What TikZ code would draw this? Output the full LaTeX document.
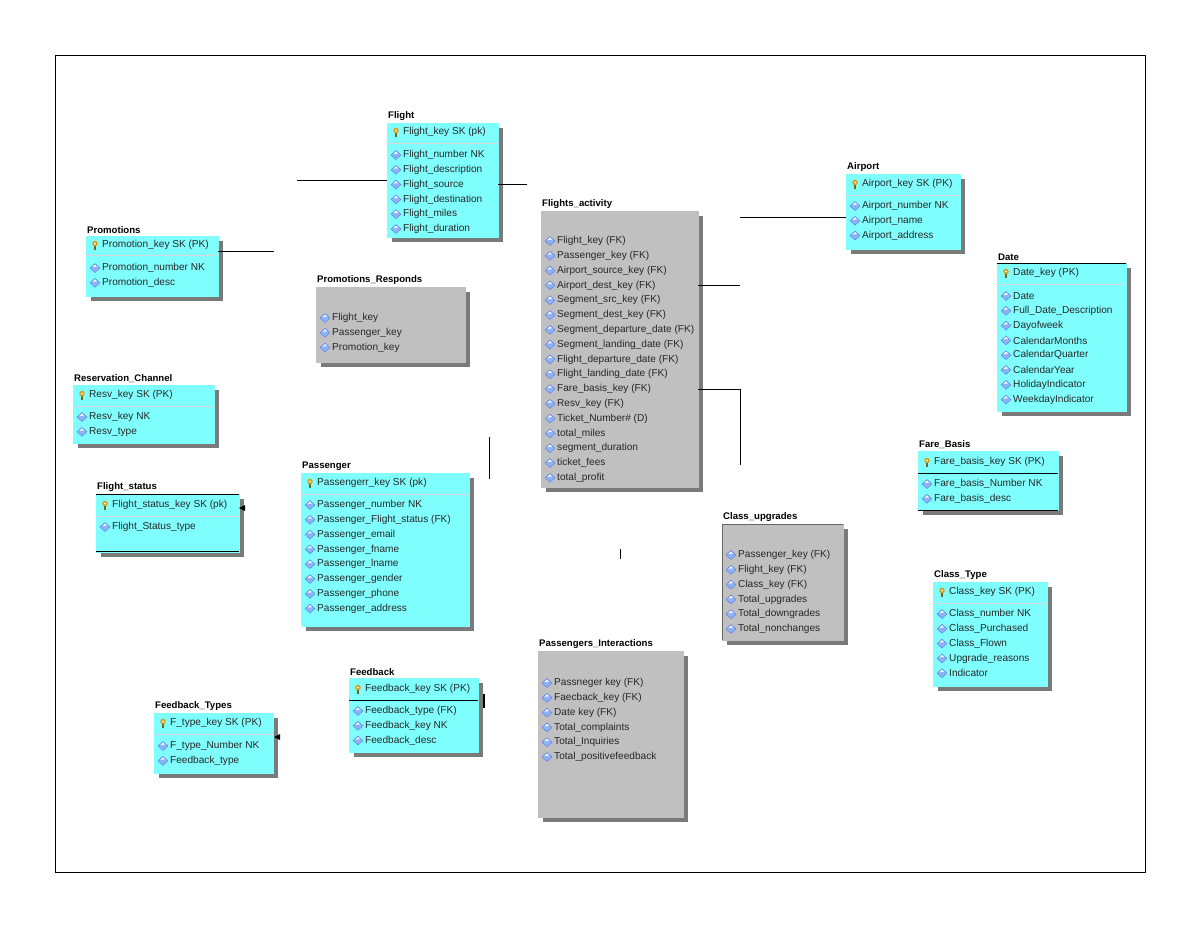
\documentclass[tikz,border=0pt]{standalone}
\usepackage{fontspec}
\setmainfont{Liberation Sans}
\begin{document}
\begin{tikzpicture}[x=1pt,y=-1pt,
  ttl/.style={anchor=south west,inner sep=0pt,font=\bfseries\fontsize{9.6}{10}\selectfont},
  att/.style={anchor=west,inner sep=0pt,font=\fontsize{10.1}{11}\selectfont,text=black!85},
  cyanent/.style={fill=cyanE,draw=cyanE},
  grayent/.style={fill=grayE,draw=grayE},
  conn/.style={draw=black,line width=0.8pt}]
\definecolor{cyanE}{HTML}{80FFFF}
\definecolor{grayE}{HTML}{C0C0C0}
\definecolor{shadowE}{HTML}{7A7A7A}
\definecolor{gemE}{HTML}{8CB4F0}
\definecolor{keyE}{HTML}{D8A020}
\useasboundingbox (0,0) rectangle (1200,927);
\fill[white] (0,0) rectangle (1200,927);
\draw[black,line width=0.6pt] (55,55) rectangle (1145,872);
% macros
\newcommand\entbox[7]{%
  \fill[shadowE] (#2+5,#3+5) rectangle (#2+#4+5,#3+#5+5);
  \path[#7] (#2,#3) rectangle (#2+#4,#3+#5);
  \coordinate (#1) at (#2,#3);
  \node[ttl] (#1-t) at (#2+1,#3-2) {#6};}
\newcommand\sepl[4][black!15]{\draw[#1,line width=0.7pt] (#2,#3) -- (#2+#4,#3);}
\newcommand\keyrow[4]{%
  \fill[keyE] (#2+9,#3-1.5) circle (2.8);
  \fill[keyE!60!black] (#2+8.3,#3+1) rectangle (#2+9.7,#3+5);
  \fill[white] (#2+9,#3-1.5) circle (1);
  \node[att] (#1) at (#2+16,#3) {#4};}
\newcommand\attrs[4]{%
  \foreach \t [count=\i from 0] in {#4} {
    \pgfmathsetmacro\yy{#3+\i*14.8}
    \fill[gemE,draw=gemE!60!blue,line width=0.3pt] (#2+4,\yy) -- (#2+9,\yy-4.5) -- (#2+14,\yy) -- (#2+9,\yy+4.5) -- cycle;
    \fill[white] (#2+6.5,\yy-1) -- (#2+9,\yy-3.5) -- (#2+11,\yy-1.5) -- cycle;
    \node[att] (#1-\i) at (#2+16,\yy) {\t};
  }}
% Flight
\entbox{flight}{387}{123}{111}{114}{Flight}{cyanent}
\keyrow{flight-k}{387}{132}{Flight\_key SK (pk)}
\sepl{387}{143}{111}
\attrs{flight}{387}{155}{Flight\_number NK,Flight\_description,Flight\_source,Flight\_destination,Flight\_miles,Flight\_duration}
% Promotions
\entbox{promo}{86}{236}{132}{60}{Promotions}{cyanent}
\keyrow{promo-k}{86}{245}{Promotion\_key SK (PK)}
\sepl{86}{255}{132}
\attrs{promo}{86}{268}{Promotion\_number NK,Promotion\_desc}
% Promotions_Responds
\entbox{presp}{316}{287}{149}{75}{Promotions\_Responds}{grayent}
\sepl[black!25]{316}{307}{149}
\attrs{presp}{316}{318}{Flight\_key,Passenger\_key,Promotion\_key}
% Flights_activity
\entbox{fact}{541}{211}{157}{276}{Flights\_activity}{grayent}
\sepl[black!25]{541}{230}{157}
\attrs{fact}{541}{241}{Flight\_key (FK),Passenger\_key (FK),Airport\_source\_key (FK),Airport\_dest\_key (FK),Segment\_src\_key (FK),Segment\_dest\_key (FK),Segment\_departure\_date (FK),Segment\_landing\_date (FK),Flight\_departure\_date (FK),Flight\_landing\_date (FK),Fare\_basis\_key (FK),Resv\_key (FK),Ticket\_Number\# (D),total\_miles,segment\_duration,ticket\_fees,total\_profit}
% Airport
\entbox{airport}{846}{174}{114}{75}{Airport}{cyanent}
\keyrow{airport-k}{846}{184}{Airport\_key SK (PK)}
\sepl{846}{195}{114}
\attrs{airport}{846}{206}{Airport\_number NK,Airport\_name,Airport\_address}
% Date
\entbox{date}{997}{263}{129}{148}{Date}{cyanent}
\draw[black,line width=0.7pt] (997,263) -- (1126,263);
\keyrow{date-k}{997}{273}{Date\_key (PK)}
\sepl{997}{284}{129}
\attrs{date}{997}{296}{Date,Full\_Date\_Description,Dayofweek,CalendarMonths,CalendarQuarter,CalendarYear,HolidayIndicator,WeekdayIndicator}
% Reservation_Channel
\entbox{resv}{73}{385}{141}{58}{Reservation\_Channel}{cyanent}
\keyrow{resv-k}{73}{395}{Resv\_key SK (PK)}
\sepl{73}{406}{141}
\attrs{resv}{73}{417}{Resv\_key NK,Resv\_type}
% Flight_status
\entbox{fstat}{96}{494}{143}{58}{Flight\_status}{cyanent}
\draw[black,line width=0.8pt] (96,494) -- (239,494);
\draw[black,line width=0.8pt] (96,551) -- (239,551);
\keyrow{fstat-k}{96}{505}{Flight\_status\_key SK (pk)}
\sepl{96}{516}{143}
\attrs{fstat}{96}{527}{Flight\_Status\_type}
% Passenger
\entbox{pass}{301}{473}{168}{153}{Passenger}{cyanent}
\keyrow{pass-k}{301}{483}{Passengerr\_key SK (pk)}
\sepl{301}{494}{168}
\attrs{pass}{301}{505}{Passenger\_number NK,Passenger\_Flight\_status (FK),Passenger\_email,Passenger\_fname,Passenger\_lname,Passenger\_gender,Passenger\_phone,Passenger\_address}
% Class_upgrades
\entbox{cup}{722}{524}{121}{116}{Class\_upgrades}{grayent}
\draw[black!60,line width=0.7pt] (722,524) -- (843,524);
\draw[black!60,line width=0.7pt] (722,524) -- (722,640);
\attrs{cup}{722}{555}{Passenger\_key (FK),Flight\_key (FK),Class\_key (FK),Total\_upgrades,Total\_downgrades,Total\_nonchanges}
% Fare_Basis
\entbox{fare}{918}{451}{140}{59}{Fare\_Basis}{cyanent}
\keyrow{fare-k}{918}{462}{Fare\_basis\_key SK (PK)}
\sepl[black]{918}{473}{140}
\draw[black,line width=0.8pt] (918,510) -- (1058,510);
\attrs{fare}{918}{484}{Fare\_basis\_Number NK,Fare\_basis\_desc}
% Class_Type
\entbox{ctype}{933}{582}{114}{104}{Class\_Type}{cyanent}
\keyrow{ctype-k}{933}{592}{Class\_key SK (PK)}
\sepl{933}{603}{114}
\attrs{ctype}{933}{614}{Class\_number NK,Class\_Purchased,Class\_Flown,Upgrade\_reasons,Indicator}
% Passengers_Interactions
\entbox{pint}{538}{651}{145}{166}{Passengers\_Interactions}{grayent}
\sepl[black!25]{538}{671}{145}
\attrs{pint}{538}{683}{Passneger key (FK),Faecback\_key (FK),Date key (FK),Total\_complaints,Total\_Inquiries,Total\_positivefeedback}
% Feedback
\entbox{fb}{349}{678}{129}{74}{Feedback}{cyanent}
\keyrow{fb-k}{349}{689}{Feedback\_key SK (PK)}
\sepl[black]{349}{700}{129}
\attrs{fb}{349}{711}{Feedback\_type (FK),Feedback\_key NK,Feedback\_desc}
% Feedback_Types
\entbox{fbt}{154}{713}{119}{60}{Feedback\_Types}{cyanent}
\keyrow{fbt-k}{154}{723}{F\_type\_key SK (PK)}
\sepl{154}{734}{119}
\attrs{fbt}{154}{746}{F\_type\_Number NK,Feedback\_type}
% connectors
\coordinate (c1) at (297,180); \coordinate (c1b) at (387,180);
\draw[conn] (c1) -- (c1b);
\coordinate (c2) at (498,184); \coordinate (c2b) at (527,184);
\draw[conn] (c2) -- (c2b);
\coordinate (c3) at (218,251); \coordinate (c3b) at (274,251);
\draw[conn] (c3) -- (c3b);
\coordinate (c4) at (740,217); \coordinate (c4b) at (846,217);
\draw[conn] (c4) -- (c4b);
\coordinate (c5) at (698,285); \coordinate (c5b) at (740,285);
\draw[conn] (c5) -- (c5b);
\coordinate (c6) at (698,389); \coordinate (c6b) at (740,465);
\draw[conn] (c6) -| (c6b);
\coordinate (c7) at (489,437); \coordinate (c7b) at (489,479);
\draw[conn] (c7) -- (c7b);
\coordinate (c8) at (620,549); \coordinate (c8b) at (620,559);
\draw[conn] (c8) -- (c8b);
\coordinate (c9) at (484,694); \coordinate (c9b) at (484,708);
\draw[conn,line width=1.2pt] (c9) -- (c9b);
\fill[black] (239,508) -- (245,505) -- (245,511) -- cycle;
\fill[black] (274,737) -- (280,734) -- (280,740) -- cycle;
\end{tikzpicture}
\end{document}
